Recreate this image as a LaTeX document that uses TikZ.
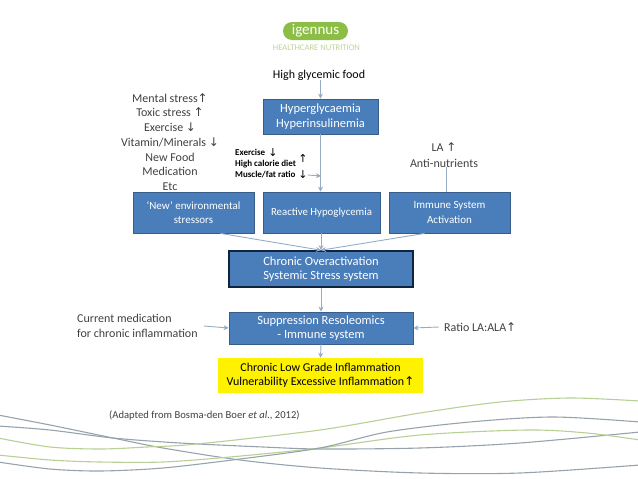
\documentclass[tikz,border=0pt]{standalone}
\usepackage{fontspec}
\setmainfont{Carlito}
\newfontfamily\arrowfont{DejaVu Sans}
\usetikzlibrary{arrows.meta, positioning}
\definecolor{boxblue}{RGB}{74,126,187}
\definecolor{edgeblue}{RGB}{56,93,138}
\definecolor{darkedge}{RGB}{15,36,62}
\definecolor{linkblue}{RGB}{150,172,198}
\definecolor{textgray}{RGB}{64,64,64}
\definecolor{brandgreen}{RGB}{140,190,70}
\definecolor{palegreen}{RGB}{190,212,150}
\definecolor{wavegreen}{RGB}{184,208,150}
\definecolor{wavegray}{RGB}{150,163,172}
\newcommand{\up}{{\arrowfont\char"2191}}
\newcommand{\down}{{\arrowfont\char"2193}}
\tikzset{
  bluebox/.style={draw=edgeblue, fill=boxblue, text=white, line width=0.8pt, align=center, inner sep=0pt, font=\fontsize{12.5}{14.5}\selectfont},
  sidebox/.style={bluebox, font=\fontsize{11}{14.5}\selectfont},
  label/.style={text=textgray, align=center, inner sep=0pt, font=\fontsize{12}{14.7}\selectfont},
  tiny/.style={text=black, align=left, inner sep=0pt, font=\bfseries\fontsize{9}{11}\selectfont},
  tinyarrow/.style={text=black, inner sep=0pt, font=\fontsize{11}{11}\selectfont},
  link/.style={draw=linkblue, line width=0.9pt, -{Stealth[length=5pt,width=5pt]}},
  wave/.style={line width=1.1pt, smooth}
}
\begin{document}
\begin{tikzpicture}[x=1pt, y=-1pt]
  \useasboundingbox (0,0) rectangle (638,479);

  % Logo
  \node (logo) [fill=brandgreen, rounded corners=9pt, minimum width=65pt, minimum height=18pt, inner sep=0pt, text=white, font=\fontsize{15}{15}\selectfont] at (315.5,31) {igennus};
  \node (brand) [text=palegreen, inner sep=0pt, font=\fontsize{8.6}{9}\selectfont] at (316.5,48) {HEALTHCARE NUTRITION};

  % Wave lines
  \draw[wave, wavegray] plot coordinates {(-2,415) (50,425) (113,438) (163,448) (240,460) (320,468) (420,473) (520,473) (640,465)};
  \draw[wave, wavegray] plot coordinates {(-2,426) (50,430) (113,438) (180,443) (263,447) (320,449) (420,448) (520,443) (640,432)};
  \draw[wave, wavegreen] plot coordinates {(-2,438) (50,447) (100,449) (147,447) (197,444) (320,430) (420,413) (500,402) (570,398) (640,401)};
  \draw[wave, wavegreen] plot coordinates {(-2,455) (50,460) (100,462) (163,462) (230,457) (320,448) (420,435) (527,430) (587,433) (640,440)};
  \draw[wave, wavegray] plot coordinates {(-2,462) (50,469) (100,471) (163,468) (240,459) (320,448) (387,432) (470,422) (553,417) (640,422)};

  % Main column
  \node (food) [label, text=black] at (319,75) {High glycemic food};
  \node (hyper) [bluebox, minimum width=115pt, minimum height=35pt] at (320.5,116.5) {Hyperglycaemia\\Hyperinsulinemia};
  \node (reactive) [sidebox, minimum width=117pt, minimum height=41pt, font=\fontsize{10.8}{14}\selectfont] at (321.5,212.5) {Reactive Hypoglycemia};
  \node (stress) [bluebox, draw=darkedge, line width=1.6pt, minimum width=184pt, minimum height=36pt] at (321,269) {Chronic Overactivation\\Systemic Stress system};
  \node (resolve) [bluebox, minimum width=184pt, minimum height=32pt] at (321,328) {Suppression Resoleomics\\- Immune system};
  \node (yellow) [fill=yellow, text=black, minimum width=205pt, minimum height=35pt, align=center, inner sep=0pt, font=\fontsize{12}{14.5}\selectfont] at (320.5,375.5) {Chronic Low Grade Inflammation\\Vulnerability Excessive Inflammation\up};

  % Side boxes
  \node (newenv) [sidebox, minimum width=121pt, minimum height=41pt] at (193.5,212.5) {‘New’ environmental\\stressors};
  \node (immune) [sidebox, minimum width=121pt, minimum height=41pt] at (449.5,212.5) {Immune System\\Activation};

  % Labels
  \node (list) [label] at (170,142) {Mental stress\up\\Toxic stress \up\\Exercise \down\\Vitamin/Minerals \down\\New Food\\Medication\\Etc};
  \node (lifestyle) [tiny, anchor=west] at (235,164) {Exercise\\High calorie diet\\Muscle/fat ratio};
  \node (arrowex) [tinyarrow] at (273,153) {\down};
  \node (arrowup) [tinyarrow] at (303,158) {\up};
  \node (arrowdown) [tinyarrow] at (303,175) {\down};
  \node (antinut) [label, font=\fontsize{12}{15.7}\selectfont] at (444,155) {LA \up\\Anti-nutrients};
  \node (medication) [label, align=left, anchor=west] at (77,326) {Current medication\\for chronic inflammation};
  \node (ratio) [label, anchor=west] at (444,327) {Ratio LA:ALA\up};
  \node (source) [text=textgray, inner sep=0pt, anchor=west, font=\fontsize{10.6}{12}\selectfont] at (109,415) {(Adapted from Bosma-den Boer \textit{et al.}, 2012)};

  % Connectors
  \coordinate (join) at (321,176);
  \draw[link] (food.south -| hyper.north) -- (hyper.north);
  \draw[link] (hyper.south) -- (reactive.north -| hyper.south);
  \draw[link] (arrowdown.east) -- (join);
  \draw[link] (reactive.south -| stress.north) -- (stress.north);
  \draw[link] ([xshift=27pt]newenv.south) -- (stress.north);
  \draw[link] ([xshift=-25pt]immune.south) -- (stress.north);
  \draw[link, -] ([xshift=2pt]antinut.south) -- ([xshift=2pt]immune.north -| antinut.south);
  \draw[link] (stress.south) -- (resolve.north);
  \draw[link] (resolve.south) -- (yellow.north);
  \draw[link] (medication.east) ++(6pt,0pt) coordinate (medstart) (medstart) -- (resolve.west);
  \draw[link] (ratio.west) ++(-5pt,0pt) coordinate (ratiostart) (ratiostart) -- (resolve.east);
\end{tikzpicture}
\end{document}
